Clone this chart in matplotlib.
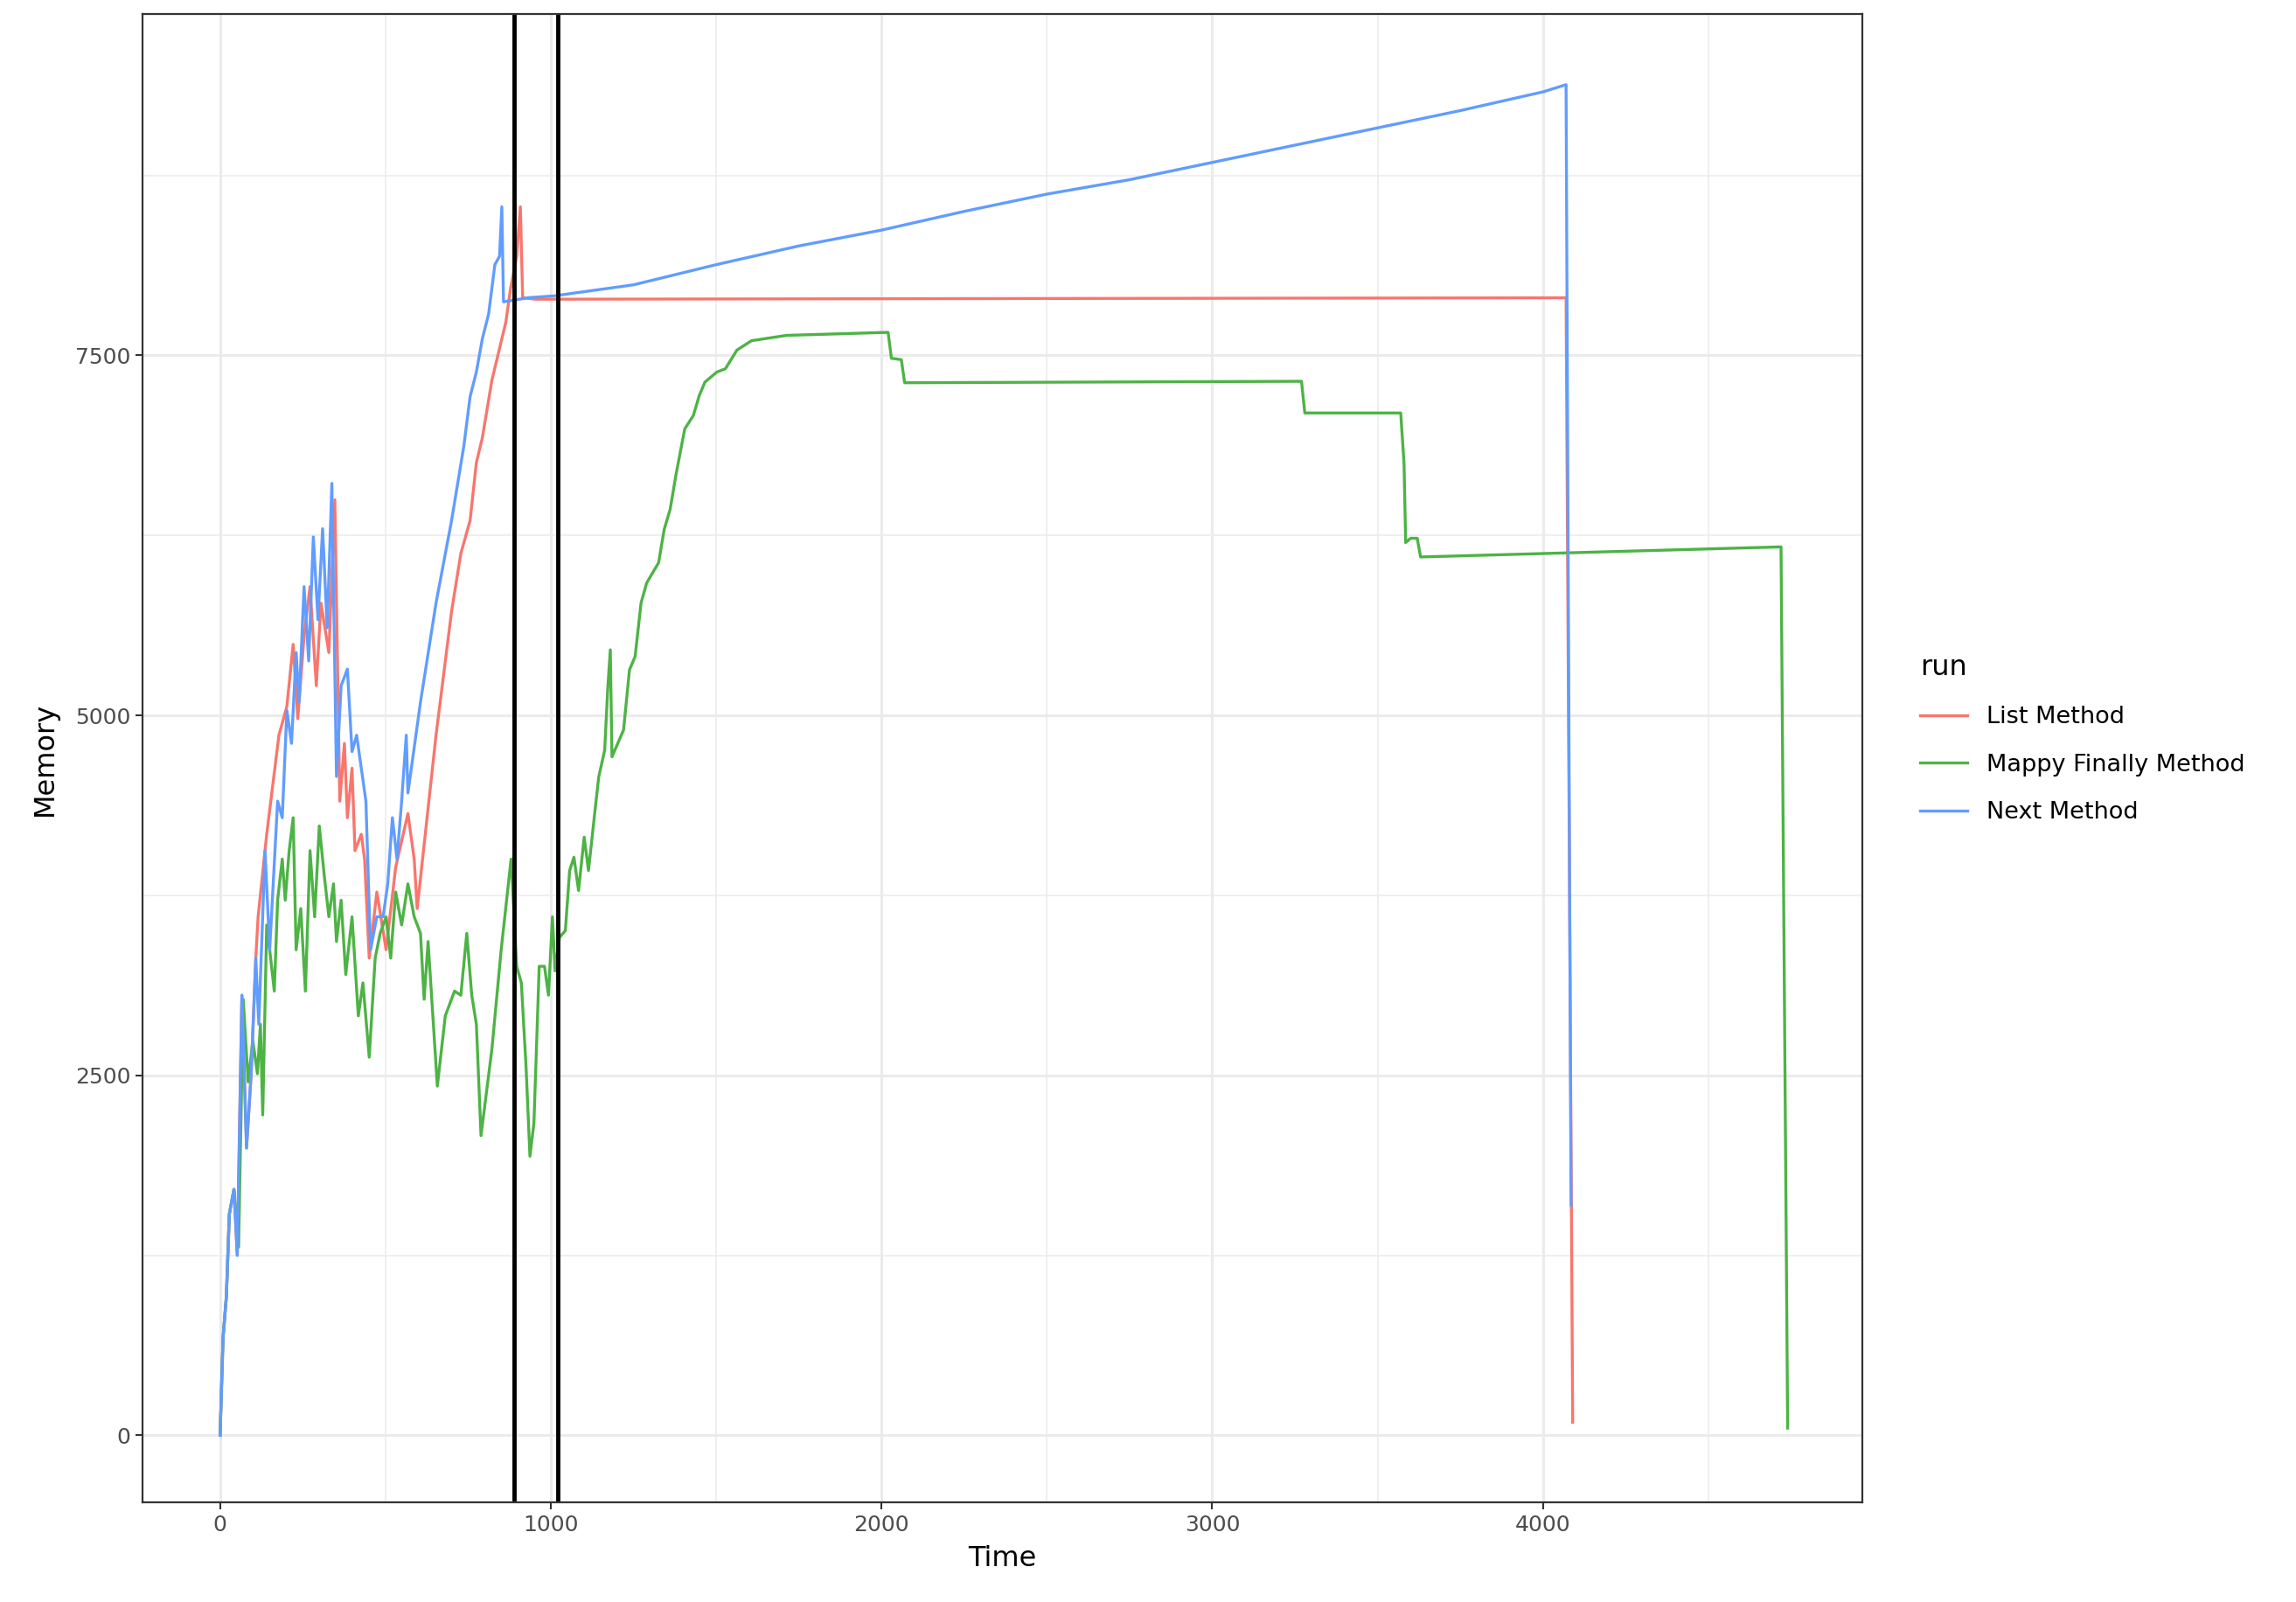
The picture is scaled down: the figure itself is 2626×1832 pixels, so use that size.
import numpy as np
import matplotlib.pyplot as plt
from matplotlib.ticker import MultipleLocator

# values (time, memory)
list_t = [0, 9, 19, 28, 42, 52, 66, 80, 94, 108, 115, 141, 178, 202, 221, 235, 254, 272, 291, 305,
          329, 347, 362, 376, 385, 399, 408, 427, 437, 451, 474, 502, 531, 568, 587, 596, 653, 700,
          728, 756, 775, 793, 822, 840, 864, 878, 897, 908, 915, 953, 4070, 4090]
list_m = [0, 677, 963, 1537, 1708, 1250, 3056, 1995, 2511, 3314, 3601, 4174, 4862, 5063, 5493, 4977,
          5550, 5894, 5206, 5780, 5436, 6497, 4404, 4805, 4289, 4633, 4060, 4174, 4002, 3314, 3773,
          3372, 3945, 4318, 4002, 3658, 4862, 5722, 6124, 6353, 6755, 6927, 7328, 7500, 7729, 7959,
          8188, 8532, 7901, 7890, 7900, 90]

mappy_t = [0, 9, 19, 28, 42, 56, 70, 85, 99, 113, 122, 129, 141, 150, 164, 174, 188, 197, 209, 221,
           230, 244, 258, 272, 286, 300, 315, 329, 343, 352, 366, 380, 399, 418, 432, 451, 469, 484,
           502, 516, 531, 549, 568, 587, 606, 617, 629, 657, 681, 709, 728, 746, 761, 775, 789, 822,
           850, 880, 897, 911, 925, 937, 949, 965, 981, 993, 1005, 1013, 1026, 1044, 1057, 1070,
           1084, 1101, 1114, 1136, 1145, 1163, 1172, 1180, 1185, 1220, 1238, 1255, 1273, 1290, 1326,
           1343, 1361, 1378, 1405, 1431, 1449, 1466, 1502, 1528, 1563, 1607, 1713, 2020, 2030, 2060,
           2070, 3270, 3280, 3570, 3580, 3585, 3600, 3620, 3630, 4720, 4740]
mappy_m = [0, 677, 963, 1537, 1708, 1307, 3027, 2454, 2740, 2511, 2855, 2225, 3544, 3372, 3085, 3716,
           4002, 3716, 4060, 4289, 3372, 3658, 3085, 4060, 3601, 4232, 3888, 3601, 3830, 3429, 3716,
           3200, 3601, 2913, 3142, 2626, 3314, 3486, 3601, 3314, 3773, 3544, 3830, 3601, 3486, 3028,
           3429, 2425, 2913, 3085, 3056, 3486, 3056, 2855, 2081, 2683, 3372, 4002, 3257, 3142, 2569,
           1938, 2167, 3257, 3257, 3056, 3601, 3225, 3457, 3504, 3922, 4015, 3783, 4154, 3922, 4387,
           4572, 4758, 5177, 5455, 4712, 4898, 5316, 5409, 5781, 5920, 6060, 6292, 6431, 6664, 6989,
           7082, 7221, 7314, 7384, 7407, 7537, 7602, 7639, 7660, 7480, 7470, 7310, 7320, 7100, 7100,
           6750, 6200, 6230, 6230, 6100, 6170, 50]

next_t = [0, 9, 19, 28, 42, 52, 66, 80, 94, 108, 117, 136, 150, 174, 188, 202, 216, 230, 239, 254,
          268, 282, 296, 310, 324, 338, 352, 366, 385, 399, 413, 427, 441, 455, 474, 493, 507, 521,
          535, 549, 563, 568, 606, 653, 700, 737, 756, 775, 793, 812, 831, 845, 852, 857, 934, 1009,
          1250, 1500, 1750, 2000, 2250, 2500, 2750, 3000, 3250, 3500, 3750, 4000, 4070, 4085]
next_m = [0, 677, 963, 1537, 1708, 1250, 3056, 1995, 2511, 3314, 2855, 4060, 3372, 4404, 4289, 5034,
          4805, 5436, 5092, 5894, 5378, 6239, 5665, 6296, 5608, 6611, 4576, 5206, 5321, 4748, 4862,
          4633, 4404, 3372, 3601, 3601, 3830, 4289, 4002, 4404, 4862, 4461, 5092, 5780, 6353, 6869,
          7213, 7385, 7615, 7787, 8131, 8188, 8532, 7872, 7901, 7913, 7990, 8130, 8260, 8370, 8500,
          8620, 8720, 8840, 8960, 9080, 9200, 9330, 9380, 1600]

series = [("List Method", list_t, list_m, "#F8766D"),
          ("Mappy Finally Method", mappy_t, mappy_m, "#4DB345"),
          ("Next Method", next_t, next_m, "#619CFF")]
marks = [889, 1022]

fig = plt.figure(figsize=(26.26, 18.32), dpi=100)
ax = fig.add_axes([0.062, 0.062, 0.749, 0.929])

for name, t, m, c in series:
    ax.plot(t, m, color=c, lw=2.4, label=name)
for v in marks:
    ax.axvline(v, color="black", lw=3.5)

ax.set_xlim(-235, 4965)
ax.set_ylim(-468, 9868)
ax.xaxis.set_major_locator(MultipleLocator(1000))
ax.xaxis.set_minor_locator(MultipleLocator(500))
ax.yaxis.set_major_locator(MultipleLocator(2500))
ax.yaxis.set_minor_locator(MultipleLocator(1250))
ax.grid(which="major", color="#EBEBEB", lw=2.2)
ax.grid(which="minor", color="#EBEBEB", lw=1.1)
ax.set_axisbelow(True)
ax.tick_params(which="minor", length=0)
ax.tick_params(which="major", length=6, width=1.5, color="#333333", labelsize=18, labelcolor="#4D4D4D")
for s in ax.spines.values():
    s.set_color("#333333")
    s.set_linewidth(1.6)

ax.set_xlabel("Time", fontsize=23, labelpad=8)
ax.set_ylabel("Memory", fontsize=23, labelpad=14)

leg = fig.legend(loc="upper left", bbox_to_anchor=(0.827, 0.605), frameon=False, title="run",
                 fontsize=19.5, title_fontsize=23, handlelength=2, labelspacing=1.05)
leg._legend_box.align = "left"

fig.savefig("out.png")
